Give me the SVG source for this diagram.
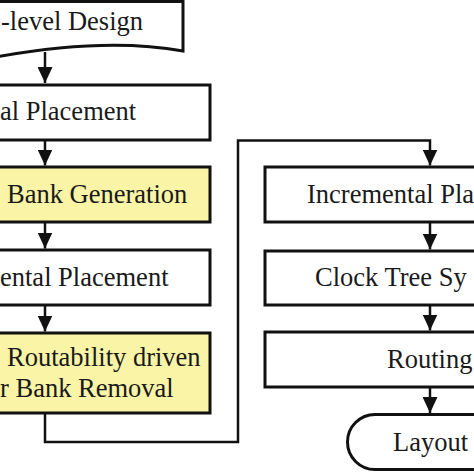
<svg xmlns="http://www.w3.org/2000/svg" width="474" height="474" viewBox="0 0 474 474">
<defs>
<style>
.box{fill:#ffffff;stroke:#111111;stroke-width:3}
.hl{fill:#f9f4a6;stroke:#111111;stroke-width:3}
.t{font-family:"Liberation Serif","Times New Roman",serif;font-size:26.5px;fill:#1a1a1a}
.c{fill:none;stroke:#111111;stroke-width:2.5}
</style>
<marker id="ah" markerUnits="userSpaceOnUse" markerWidth="16" markerHeight="15" refX="16" refY="7.5" orient="auto">
<path d="M0,0 L16,7.5 L0,15 z" fill="#111111"/>
</marker>
</defs>
<rect width="474" height="474" fill="#ffffff"/>
<g id="gate-level-design">
<path class="box" d="M-20,1.5 H183 V51 Q100,36 -20,60 Z"/>
<text class="t" x="1" y="30">-level Design</text>
</g>
<g id="global-placement">
<rect class="box" x="-20" y="85" width="230" height="55"/>
<text class="t" x="0" y="120">al Placement</text>
</g>
<g id="register-bank-generation">
<rect class="hl" x="-20" y="167" width="230" height="55"/>
<text class="t" x="7" y="203">Bank Generation</text>
</g>
<g id="incremental-placement-1">
<rect class="box" x="-20" y="250" width="230" height="55"/>
<text class="t" x="0" y="286">ental Placement</text>
</g>
<g id="register-bank-removal">
<rect class="hl" x="-20" y="333" width="230" height="80"/>
<text class="t" x="7" y="366">Routability driven</text>
<text class="t" x="0" y="397">r Bank Removal</text>
</g>
<g id="incremental-placement-2">
<rect class="box" x="265" y="167" width="230" height="55"/>
<text class="t" x="307" y="203">Incremental Pla</text>
</g>
<g id="clock-tree-synthesis">
<rect class="box" x="265" y="251" width="230" height="54"/>
<text class="t" x="315" y="286">Clock Tree Sy</text>
</g>
<g id="routing">
<rect class="box" x="265" y="332" width="230" height="55"/>
<text class="t" x="387" y="368">Routing</text>
</g>
<g id="layout">
<path class="box" d="M375,414.5 H495 V469.5 H375 A27.5,27.5 0 0 1 375,414.5 Z"/>
<text class="t" x="393" y="451">Layout</text>
</g>
<g id="connectors">
<path class="c" d="M45,52 V83" marker-end="url(#ah)"/>
<path class="c" d="M45,140 V165.5" marker-end="url(#ah)"/>
<path class="c" d="M45,222 V248.5" marker-end="url(#ah)"/>
<path class="c" d="M45,305 V331.5" marker-end="url(#ah)"/>
<path class="c" d="M45,413 V442 H238 V140.5 H430 V165.5" marker-end="url(#ah)"/>
<path class="c" d="M430,222 V249.5" marker-end="url(#ah)"/>
<path class="c" d="M430,305 V330.5" marker-end="url(#ah)"/>
<path class="c" d="M430,387 V413" marker-end="url(#ah)"/>
</g>
</svg>
